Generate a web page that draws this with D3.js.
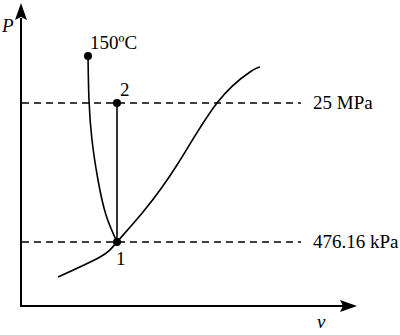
<!DOCTYPE html>
<html><head><meta charset="utf-8">
<script src="https://cdn.jsdelivr.net/npm/d3@7"></script>
<style>body{margin:0;background:#fff}svg{display:block}</style>
</head><body>
<svg id="c" width="400" height="335"></svg>
<script>
// data in arbitrary chart units (v to the right, P upward)
const isothermPts = [[67,250],[68,206],[71,166],[77,126],[85,91],[96,64]];
const saturationPts = [[37,29],[79,49],[96,64],[122,94],[156,141],[196,203],[229,234],[239,239]];
const pressureLines = [{label:"25 MPa", p:203},{label:"476.16 kPa", p:64}];
const statePoints = [{label:"150ºC", v:67, p:250, dx:2, dy:-7},{label:"2", v:96, p:203, dx:3, dy:-7},{label:"1", v:96, p:64, dx:-1, dy:23}];

const svg = d3.select("#c");
const x = d3.scaleLinear().domain([0,336]).range([21,357]);
const y = d3.scaleLinear().domain([0,300]).range([306,6]);
const font = "'Liberation Serif', 'Times New Roman', serif";

// axes
svg.append("line").attr("x1",x(0)).attr("y1",y(0)).attr("x2",x(0)).attr("y2",y(288)).attr("stroke","#000").attr("stroke-width",2);
svg.append("line").attr("x1",x(0)-1).attr("y1",y(0)).attr("x2",x(326)).attr("y2",y(0)).attr("stroke","#000").attr("stroke-width",2);
svg.append("path").attr("d",`M${x(0)},${y(303)} L${x(0)-6},${y(286)} L${x(0)},${y(289)} L${x(0)+6},${y(286)} Z`).attr("fill","#000");
svg.append("path").attr("d",`M${x(336)},${y(0)} L${x(319)},${y(0)-6} L${x(322)},${y(0)} L${x(319)},${y(0)+6} Z`).attr("fill","#000");
svg.append("text").attr("x",2).attr("y",32).attr("font-family",font).attr("font-style","italic").attr("font-size",19).text("P");
svg.append("text").attr("x",317).attr("y",328).attr("font-family",font).attr("font-style","italic").attr("font-size",19).text("v");

// dashed pressure lines
pressureLines.forEach(d=>{
  svg.append("line").attr("x1",x(0)+1).attr("x2",x(280)).attr("y1",y(d.p)).attr("y2",y(d.p))
    .attr("stroke","#000").attr("stroke-width",1.6).attr("stroke-dasharray","7,5");
  svg.append("text").attr("x",x(292)).attr("y",y(d.p)).attr("dy","0.33em").attr("font-family",font).attr("font-size",19).text(d.label);
});

const line = d3.line().x(d=>x(d[0])).y(d=>y(d[1])).curve(d3.curveNatural);
svg.append("path").attr("d",line(isothermPts)).attr("fill","none").attr("stroke","#000").attr("stroke-width",1.6);
svg.append("path").attr("d",line(saturationPts)).attr("fill","none").attr("stroke","#000").attr("stroke-width",1.6);
// vertical process line 1-2
svg.append("line").attr("x1",x(96)).attr("x2",x(96)).attr("y1",y(64)).attr("y2",y(203)).attr("stroke","#000").attr("stroke-width",1.6);

statePoints.forEach(d=>{
  svg.append("circle").attr("cx",x(d.v)).attr("cy",y(d.p)).attr("r",4).attr("fill","#000");
  svg.append("text").attr("x",x(d.v)+d.dx).attr("y",y(d.p)+d.dy).attr("font-family",font).attr("font-size",19).text(d.label);
});
</script>
</body></html>
